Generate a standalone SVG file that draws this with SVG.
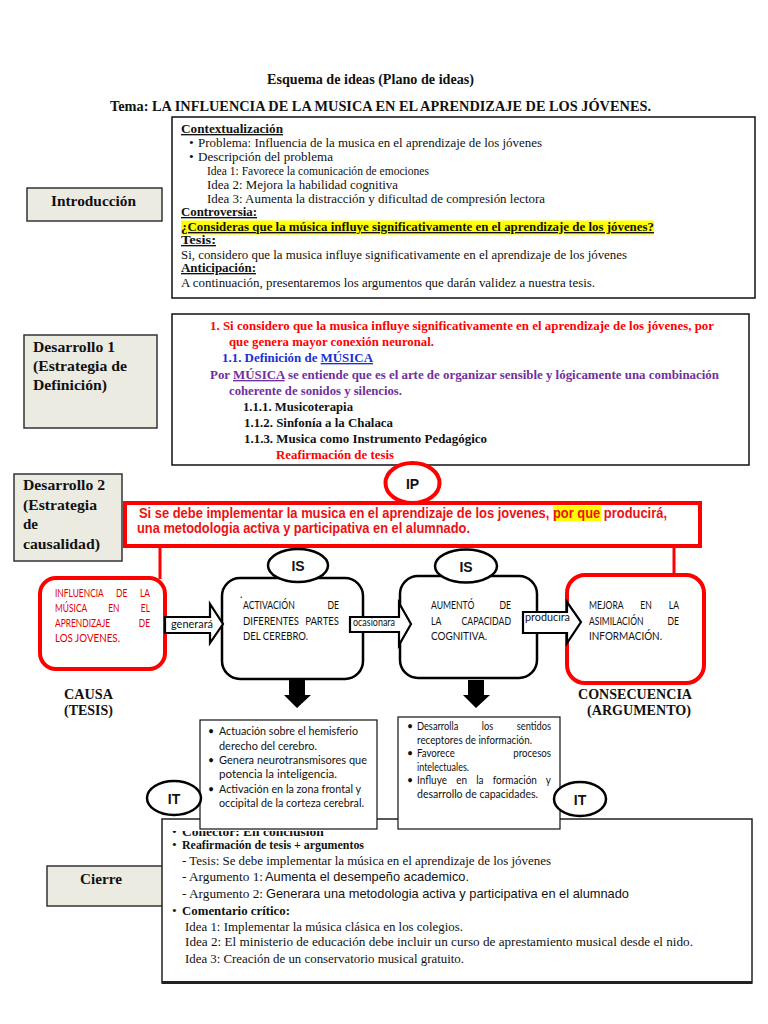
<svg xmlns="http://www.w3.org/2000/svg" width="768" height="1024" viewBox="0 0 768 1024">
<style>
.s{font-family:"Liberation Serif","Times New Roman",serif;font-size:13.5px;fill:#111}
.sb{font-family:"Liberation Serif","Times New Roman",serif;font-size:13.5px;font-weight:bold;fill:#111}
.lb{font-family:"Liberation Serif","Times New Roman",serif;font-size:15px;font-weight:bold;fill:#111}
.d1{font-family:"Liberation Serif","Times New Roman",serif;font-size:13.5px;font-weight:bold}
.c{font-family:Lato,"Open Sans",sans-serif;font-size:10.5px;fill:#111}
.cr{font-family:Lato,"Open Sans",sans-serif;font-size:10.5px;fill:#e00000}
.ab{font-family:Lato,"Open Sans",sans-serif;font-size:11px;fill:#111}
.ar{font-family:"Liberation Sans",Arial,sans-serif;font-size:14px;font-weight:bold;fill:#ee1111}
.bub{font-family:"Liberation Sans",Arial,sans-serif;font-size:14px;font-weight:bold;fill:#111;text-anchor:middle}
.ss{font-family:"Liberation Sans",Arial,sans-serif;font-size:13.5px;fill:#111}
.lab{fill:#ecebe2;stroke:#333;stroke-width:1.5}
.box{fill:#fff;stroke:#111;stroke-width:1.5}
.rbox{fill:#fff;stroke:#ff0000;stroke-width:4}
.kbox{fill:#fff;stroke:#000;stroke-width:2.5}
.blk{fill:#fff;stroke:#000;stroke-width:2.5}
.u{text-decoration:underline}
</style>
<defs>
<clipPath id="cc"><rect x="160" y="831" width="300" height="20"/></clipPath>
</defs>

<g id="title">
<text class="lb" x="267" y="84" font-size="14" textLength="207" lengthAdjust="spacingAndGlyphs">Esquema de ideas (Plano de ideas)</text>
<text class="lb" x="110" y="111" textLength="541" lengthAdjust="spacingAndGlyphs">Tema: LA INFLUENCIA DE LA MUSICA EN EL APRENDIZAJE DE LOS JÓVENES.</text>
</g>

<g id="introduccion">
<rect class="lab" x="27" y="188" width="135" height="33"/>
<text class="lb" x="51" y="206" textLength="85" lengthAdjust="spacingAndGlyphs">Introducción</text>
</g>

<g id="intro-content">
<rect class="box" x="172" y="117" width="583" height="181"/>
<text class="sb u" x="181" y="133" textLength="102" lengthAdjust="spacingAndGlyphs">Contextualización</text>
<text class="s" x="189" y="147">•</text>
<text class="s" x="198" y="147" textLength="344" lengthAdjust="spacingAndGlyphs">Problema: Influencia de la musica en el aprendizaje de los jóvenes</text>
<text class="s" x="189" y="161">•</text>
<text class="s" x="198" y="161" textLength="135" lengthAdjust="spacingAndGlyphs">Descripción del problema</text>
<text class="s" x="207" y="175" textLength="222" lengthAdjust="spacingAndGlyphs">Idea 1: Favorece la comunicación de emociones</text>
<text class="s" x="207" y="189" textLength="191" lengthAdjust="spacingAndGlyphs">Idea 2: Mejora la habilidad cognitiva</text>
<text class="s" x="207" y="203" textLength="338" lengthAdjust="spacingAndGlyphs">Idea 3: Aumenta la distracción y dificultad de compresión lectora</text>
<text class="sb u" x="181" y="216" textLength="76" lengthAdjust="spacingAndGlyphs">Controversia:</text>
<rect x="181" y="220.5" width="473" height="14" fill="#ffff00"/>
<text class="sb u" x="181" y="231" textLength="473" lengthAdjust="spacingAndGlyphs">¿Consideras que la música influye significativamente en el aprendizaje de los jóvenes?</text>
<text class="sb u" x="181" y="244" textLength="35" lengthAdjust="spacingAndGlyphs">Tesis:</text>
<text class="s" x="181" y="259" textLength="446" lengthAdjust="spacingAndGlyphs">Si, considero que la musica influye significativamente en el aprendizaje de los jóvenes</text>
<text class="sb u" x="181" y="272" textLength="75" lengthAdjust="spacingAndGlyphs">Anticipación:</text>
<text class="s" x="181" y="287" textLength="414" lengthAdjust="spacingAndGlyphs">A continuación, presentaremos los argumentos que darán validez a nuestra tesis.</text>
</g>

<g id="desarrollo1">
<rect class="lab" x="24" y="335" width="133" height="93"/>
<text class="lb" x="33" y="352" textLength="82" lengthAdjust="spacingAndGlyphs">Desarrollo 1</text>
<text class="lb" x="33" y="371" textLength="94" lengthAdjust="spacingAndGlyphs">(Estrategia de</text>
<text class="lb" x="33" y="390" textLength="74" lengthAdjust="spacingAndGlyphs">Definición)</text>
</g>

<g id="desarrollo1-content">
<rect class="box" x="172" y="314" width="577" height="151" stroke-width="2"/>
<text class="d1" x="210" y="330" fill="#ff0000" textLength="504" lengthAdjust="spacingAndGlyphs">1. Si considero que la musica influye significativamente en el aprendizaje de los jóvenes, por</text>
<text class="d1" x="229" y="346" fill="#ff0000" textLength="205" lengthAdjust="spacingAndGlyphs">que genera mayor conexión neuronal.</text>
<text class="d1" x="222" y="362" fill="#1a2fd6" textLength="151" lengthAdjust="spacingAndGlyphs">1.1. Definición de <tspan class="u">MÚSICA</tspan></text>
<text class="d1" x="210" y="379" fill="#7030a0" textLength="509" lengthAdjust="spacingAndGlyphs">Por <tspan class="u">MÚSICA</tspan> se entiende que es el arte de organizar sensible y lógicamente una combinación</text>
<text class="d1" x="229" y="395" fill="#7030a0" textLength="173" lengthAdjust="spacingAndGlyphs">coherente de sonidos y silencios.</text>
<text class="d1" x="243" y="411" fill="#111" textLength="110" lengthAdjust="spacingAndGlyphs">1.1.1. Musicoterapia</text>
<text class="d1" x="244" y="427" fill="#111" textLength="149" lengthAdjust="spacingAndGlyphs">1.1.2. Sinfonía a la Chalaca</text>
<text class="d1" x="244" y="443" fill="#111" textLength="243" lengthAdjust="spacingAndGlyphs">1.1.3. Musica como Instrumento Pedagógico</text>
<text class="d1" x="276" y="459" fill="#ff0000" textLength="118" lengthAdjust="spacingAndGlyphs">Reafirmación de tesis</text>
</g>

<g id="desarrollo2">
<rect class="lab" x="14" y="474" width="108" height="87"/>
<text class="lb" x="23" y="490" textLength="82" lengthAdjust="spacingAndGlyphs">Desarrollo 2</text>
<text class="lb" x="23" y="510" textLength="74" lengthAdjust="spacingAndGlyphs">(Estrategia</text>
<text class="lb" x="23" y="529" textLength="15" lengthAdjust="spacingAndGlyphs">de</text>
<text class="lb" x="23" y="549" textLength="77" lengthAdjust="spacingAndGlyphs">causalidad)</text>
</g>

<g id="connectors">
<line x1="160" y1="547" x2="160" y2="579" stroke="#ff0000" stroke-width="3"/>
<line x1="674" y1="547" x2="674" y2="576" stroke="#ff0000" stroke-width="3"/>
</g>

<g id="ip-statement">
<rect class="rbox" x="125" y="503" width="575" height="43"/>
<rect x="553" y="506" width="48" height="15" fill="#ffff00"/>
<text class="ar" x="139" y="518" textLength="528" lengthAdjust="spacingAndGlyphs">Si se debe implementar la musica en el aprendizaje de los jovenes, por que producirá,</text>
<text class="ar" x="137" y="533" textLength="333" lengthAdjust="spacingAndGlyphs">una metodologia activa y participativa en el alumnado.</text>
</g>

<g id="ip">
<ellipse cx="412.5" cy="483" rx="27" ry="20" fill="#fff" stroke="#ff0000" stroke-width="4"/>
<text class="bub" x="412.5" y="488.5">IP</text>
</g>

<g id="causa">
<rect class="rbox" x="40" y="578" width="125" height="91" rx="16"/>
<text class="cr" x="55" y="597" word-spacing="13" textLength="95" lengthAdjust="spacingAndGlyphs">INFLUENCIA DE LA</text>
<text class="cr" x="55" y="612" word-spacing="24" textLength="95" lengthAdjust="spacingAndGlyphs">MÚSICA EN EL</text>
<text class="cr" x="55" y="627" word-spacing="33" textLength="95" lengthAdjust="spacingAndGlyphs">APRENDIZAJE DE</text>
<text class="cr" x="55" y="642" textLength="65" lengthAdjust="spacingAndGlyphs">LOS JOVENES.</text>
<text class="lb" x="64" y="699" textLength="49" lengthAdjust="spacingAndGlyphs">CAUSA</text>
<text class="lb" x="64" y="715" textLength="49" lengthAdjust="spacingAndGlyphs">(TESIS)</text>
</g>

<g id="is1-box">
<rect class="kbox" x="222" y="578" width="141" height="101" rx="18"/>
<text class="c" x="240" y="598">.</text>
<text class="c" x="243" y="609" word-spacing="37" textLength="96" lengthAdjust="spacingAndGlyphs">ACTIVACIÓN DE</text>
<text class="c" x="243" y="625" word-spacing="4" textLength="96" lengthAdjust="spacingAndGlyphs">DIFERENTES PARTES</text>
<text class="c" x="243" y="640" textLength="65" lengthAdjust="spacingAndGlyphs">DEL CEREBRO.</text>
</g>

<g id="is1">
<ellipse cx="298" cy="565.5" rx="30" ry="16.5" class="blk" stroke-width="2.2"/>
<text class="bub" x="298" y="571">IS</text>
</g>

<g id="is2-box">
<rect class="kbox" x="400" y="576" width="137" height="102" rx="18"/>
<text class="c" x="431" y="609" word-spacing="28" textLength="80" lengthAdjust="spacingAndGlyphs">AUMENTÓ DE</text>
<text class="c" x="431" y="625" word-spacing="22" textLength="80" lengthAdjust="spacingAndGlyphs">LA CAPACIDAD</text>
<text class="c" x="431" y="640" textLength="56" lengthAdjust="spacingAndGlyphs">COGNITIVA.</text>
</g>

<g id="is2">
<ellipse cx="466" cy="566" rx="31" ry="16.5" class="blk" stroke-width="2.2"/>
<text class="bub" x="466" y="571.5">IS</text>
</g>

<g id="consecuencia">
<rect class="rbox" x="567" y="575" width="137" height="108" rx="18"/>
<text class="c" x="589" y="609" word-spacing="18" textLength="90" lengthAdjust="spacingAndGlyphs">MEJORA EN LA</text>
<text class="c" x="589" y="625" word-spacing="27" textLength="90" lengthAdjust="spacingAndGlyphs">ASIMILACIÓN DE</text>
<text class="c" x="589" y="640" textLength="73" lengthAdjust="spacingAndGlyphs">INFORMACIÓN.</text>
<text class="lb" x="578" y="699" textLength="114" lengthAdjust="spacingAndGlyphs">CONSECUENCIA</text>
<text class="lb" x="587" y="715" textLength="104" lengthAdjust="spacingAndGlyphs">(ARGUMENTO)</text>
</g>

<g id="arrows">
<path d="M165,617 H210 V604 L223,624 L210,643 V633 H165 Z" fill="#fff" stroke="#000" stroke-width="2.2"/>
<text class="ab" x="171" y="628" textLength="42" lengthAdjust="spacingAndGlyphs">generará</text>
<path d="M350,617 H399 V603 L411,624 L399,645 V632 H350 Z" fill="#fff" stroke="#000" stroke-width="2.2"/>
<text class="ab" x="353" y="626" textLength="42" lengthAdjust="spacingAndGlyphs">ocasionara</text>
<path d="M523,612 H567 V602 L581,622 L567,643 V633 H523 Z" fill="#fff" stroke="#000" stroke-width="2.2"/>
<text class="ab" x="525" y="621" textLength="45" lengthAdjust="spacingAndGlyphs">producira</text>
<path d="M289,680 H305 V695 H311 L297,708 L284,695 H289 Z" fill="#000"/>
<path d="M468,680 H484 V695 H490 L476,708 L463,695 H468 Z" fill="#000"/>
</g>

<g id="cierre">
<rect class="lab" x="47" y="866" width="116" height="40"/>
<text class="lb" x="80" y="884" textLength="42" lengthAdjust="spacingAndGlyphs">Cierre</text>
</g>

<g id="cierre-content">
<rect x="162" y="819" width="590" height="164" fill="#fff" stroke="#222" stroke-width="1.5"/>
<line x1="162" y1="982.5" x2="752" y2="982.5" stroke="#222" stroke-width="3"/>
<g clip-path="url(#cc)">
<text class="s" x="172" y="836">•</text>
<text class="sb" x="182" y="836">Conector: <tspan class="s">En conclusión</tspan></text>
</g>
<text class="s" x="172" y="849">•</text>
<text class="sb" x="182" y="849" textLength="182" lengthAdjust="spacingAndGlyphs">Reafirmación de tesis + argumentos</text>
<text class="s" x="182" y="865" textLength="369" lengthAdjust="spacingAndGlyphs">- Tesis: Se debe implementar la música en el aprendizaje de los jóvenes</text>
<text class="s" x="182" y="881" textLength="81" lengthAdjust="spacingAndGlyphs">- Argumento 1:</text>
<text class="ss" x="265" y="881" textLength="204" lengthAdjust="spacingAndGlyphs">Aumenta el desempeño academico.</text>
<text class="s" x="182" y="898" textLength="81" lengthAdjust="spacingAndGlyphs">- Argumento 2:</text>
<text class="ss" x="266" y="898" textLength="363" lengthAdjust="spacingAndGlyphs">Generara una metodologia activa y participativa en el alumnado</text>
<text class="s" x="172" y="915">•</text>
<text class="sb" x="182" y="915" textLength="108" lengthAdjust="spacingAndGlyphs">Comentario crítico:</text>
<text class="s" x="185" y="931" textLength="278" lengthAdjust="spacingAndGlyphs">Idea 1: Implementar la música clásica en los colegios.</text>
<text class="s" x="185" y="946" textLength="508" lengthAdjust="spacingAndGlyphs">Idea 2: El ministerio de educación debe incluir un curso de aprestamiento musical desde el nido.</text>
<text class="s" x="185" y="963" textLength="279" lengthAdjust="spacingAndGlyphs">Idea 3: Creación de un conservatorio musical gratuito.</text>
</g>

<g id="is1-details">
<rect x="200" y="720" width="177" height="109" fill="#fff" stroke="#111" stroke-width="1.2"/>
<text class="c" x="208" y="735">•</text><text class="c" x="219" y="735" textLength="139" lengthAdjust="spacingAndGlyphs">Actuación sobre el hemisferio</text>
<text class="c" x="219" y="749.5" textLength="98" lengthAdjust="spacingAndGlyphs">derecho del cerebro.</text>
<text class="c" x="208" y="764">•</text><text class="c" x="219" y="764" textLength="148" lengthAdjust="spacingAndGlyphs">Genera neurotransmisores que</text>
<text class="c" x="219" y="778" textLength="118" lengthAdjust="spacingAndGlyphs">potencia la inteligencia.</text>
<text class="c" x="208" y="792.5">•</text><text class="c" x="219" y="792.5" textLength="142" lengthAdjust="spacingAndGlyphs">Activación en la zona frontal y</text>
<text class="c" x="219" y="807" textLength="145" lengthAdjust="spacingAndGlyphs">occipital de la corteza cerebral.</text>
</g>

<g id="is2-details">
<rect x="398" y="717" width="162" height="112" fill="#fff" stroke="#111" stroke-width="1.2"/>
<text class="c" x="407" y="730">•</text><text class="c" x="417" y="730" word-spacing="24" textLength="134" lengthAdjust="spacingAndGlyphs">Desarrolla los sentidos</text>
<text class="c" x="417" y="743.5" textLength="115" lengthAdjust="spacingAndGlyphs">receptores de información.</text>
<text class="c" x="407" y="757">•</text><text class="c" x="417" y="757" word-spacing="61" textLength="134" lengthAdjust="spacingAndGlyphs">Favorece procesos</text>
<text class="c" x="417" y="770.5" textLength="52" lengthAdjust="spacingAndGlyphs">intelectuales.</text>
<text class="c" x="407" y="784">•</text><text class="c" x="417" y="784" word-spacing="7" textLength="134" lengthAdjust="spacingAndGlyphs">Influye en la formación y</text>
<text class="c" x="417" y="797.5" textLength="121" lengthAdjust="spacingAndGlyphs">desarrollo de capacidades.</text>
</g>

<g id="it1">
<ellipse cx="174" cy="798" rx="27" ry="17" class="blk"/>
<text class="bub" x="174" y="803.5">IT</text>
</g>
<g id="it2">
<ellipse cx="580" cy="799" rx="26" ry="17" class="blk"/>
<text class="bub" x="580" y="804.5">IT</text>
</g>
</svg>
